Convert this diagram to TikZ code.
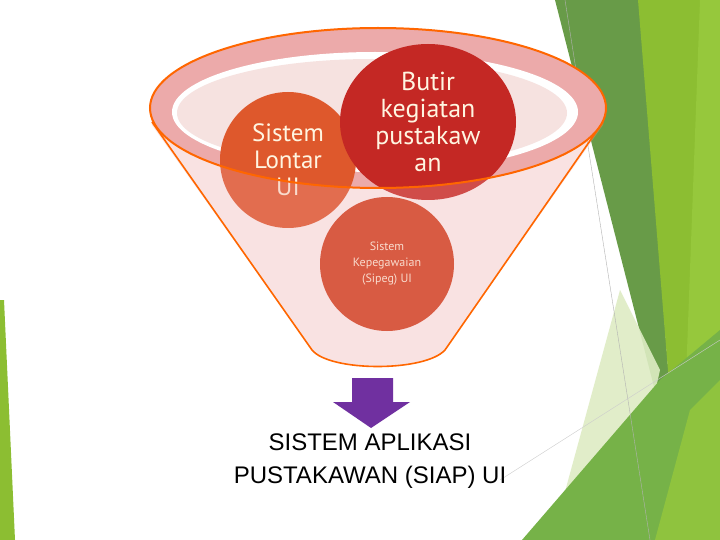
\documentclass[tikz,border=0pt]{standalone}
\usepackage{fontspec}
\setmainfont{PT Sans}
\newfontfamily\lib{Liberation Sans}
\usetikzlibrary{shapes.geometric}
\begin{document}
\begin{tikzpicture}[x=1pt,y=-1pt,
  circ/.style={circle,minimum size=#1,inner sep=0pt,align=center,text={rgb,255:red,255;green,245;blue,225}},
  ]
\useasboundingbox (0,0) rectangle (720,540);
\fill[white] (0,0) rectangle (720,540);
% green decor
\fill[fill={rgb,255:red,104;green,155;blue,72}] (555,0) -- (640,0) -- (672,420) -- (665,430) -- cycle;
\fill[fill={rgb,255:red,140;green,190;blue,50}] (638,0) -- (720,0) -- (720,540) -- (655,540) -- (672,420) -- cycle;
\fill[fill={rgb,255:red,150;green,200;blue,60}] (700,0) -- (720,0) -- (720,540) -- (680,540) -- cycle;
\fill[fill={rgb,255:red,222;green,236;blue,196}, opacity=0.9] (560,510) -- (620,290) -- (660,370) -- (640,460) -- cycle;
\fill[fill={rgb,255:red,118;green,178;blue,72}] (522,540) -- (660,380) -- (720,330) -- (720,540) -- cycle;
\fill[fill={rgb,255:red,150;green,200;blue,60}, opacity=0.8] (655,540) -- (690,410) -- (720,380) -- (720,540) -- cycle;
\fill[fill={rgb,255:red,140;green,190;blue,50}] (0,300) -- (4,300) -- (15,540) -- (0,540) -- cycle;
\draw[gray!60, line width=0.4] (565,0) -- (650,540);
\draw[gray!40, line width=0.4] (500,480) -- (720,340);
% funnel back
\fill[fill={rgb,255:red,236;green,170;blue,170}] (378,108) ellipse [x radius=228, y radius=80];
\fill[white] (375,112) ellipse [x radius=203, y radius=60];
\fill[fill={rgb,255:red,246;green,226;blue,224}] (372,113) ellipse [x radius=195, y radius=54];
% circles
\node[circ=136pt, fill={rgb,255:red,222;green,88;blue,44}, font=\fontsize{25}{27}\selectfont] (lontar) at (288,160) {Sistem\\Lontar\\UI};
\node[circ=134pt, fill={rgb,255:red,208;green,62;blue,28}, font=\fontsize{12}{16}\selectfont] (sipeg) at (387,264) {Sistem\\Kepegawaian\\(Sipeg) UI};
\node[ellipse, minimum width=176pt, minimum height=156pt, inner sep=0pt, align=center, text={rgb,255:red,255;green,245;blue,225}, fill={rgb,255:red,196;green,40;blue,36}, font=\fontsize{26}{27}\selectfont] (butir) at (428,122) {Butir\\kegiatan\\pustakaw\\an};
% funnel front (translucent)
\fill[fill={rgb,255:red,236;green,160;blue,160}, opacity=0.3] (150,108) arc[start angle=180, end angle=0, x radius=228, y radius=80] -- (603,125) -- (445,350) .. controls (425,372) and (330,372) .. (312,350) -- (152,125) -- cycle;
\draw[orange!80!red, line width=1.6] (152,122) -- (312,350) .. controls (330,372) and (425,372) .. (445,350) -- (603,122);
\draw[orange!80!red, line width=2] (378,108) ellipse [x radius=228, y radius=80];
% arrow
\fill[fill={rgb,255:red,112;green,48;blue,160}] (352,378) -- (393,378) -- (393,402) -- (410,402) -- (371,428) -- (333,402) -- (352,402) -- cycle;
\node[font=\lib\fontsize{24}{33}\selectfont, align=center] (siap) at (370,461) {SISTEM APLIKASI\\PUSTAKAWAN (SIAP) UI};
\end{tikzpicture}
\end{document}
